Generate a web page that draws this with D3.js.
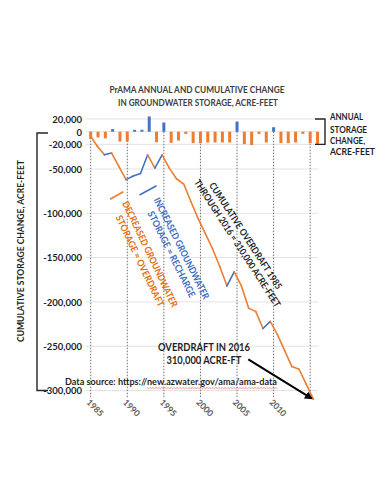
<!doctype html>
<html>
<head>
<meta charset="utf-8"/>
<style>
    body { margin: 0; background: #fff; }
    svg { display: block; }
    text { font-family: Lato, "Open Sans", sans-serif; font-weight: 700; }
</style>
<script src="https://d3js.org/d3.v7.min.js"></script>
</head>
<body>
<svg width="386" height="500"></svg>
<script>

var years = [1985, 1986, 1987, 1988, 1989, 1990, 1991, 1992, 1993, 1994, 1995, 1996, 1997, 1998, 1999, 2000,
             2001, 2002, 2003, 2004, 2005, 2006, 2007, 2008, 2009, 2010, 2011, 2012, 2013, 2014, 2015, 2016];

// annual storage change, acre-feet (bars)
var annual = [-11500, -9000, -10500, 4000, -15500, -15500, 3000, 3000, 24000, -16500, 14500, -17500, -14000, -3500, -18000, -18000,
              -17000, -17000, -17000, -17000, 16000, -19500, -21000, -3500, -17000, 7000, -18000, -18000, -17000, -3500, -18000, -19500];

// cumulative storage change, acre-feet (line)
var cumulative = [-12000, -24000, -34000, -32000, -47000, -62000, -58000, -55000, -34000, -49000, -34000, -49000, -61000, -67000, -87000, -106000,
                  -123000, -140000, -160000, -182000, -166000, -182000, -207000, -211000, -230000, -222000, -237000, -255000, -273000, -276000, -293000, -310000];

var yearLabels = [1985, 1990, 1995, 2000, 2005, 2010];
var gridYears = [1985, 1990, 1995, 2000, 2005, 2010, 2015];
var annualTicks = [20000, 0, -20000];
var cumTicks = [-50000, -100000, -150000, -200000, -250000, -300000];

var svg = d3.select("svg");
var orange = "#ED7D31", blue = "#4472C4", ink = "#1f1f1f";
var fmt = function(d) { return d3.format(",")(d).replace("\u2212", "-"); };

var xBar = d3.scaleLinear().domain([1985, 2016]).range([90.7, 317.5]);
var xLine = d3.scaleLinear().domain([1985, 2016]).range([90, 313.5]);
var yTop = d3.scaleLinear().domain([-20000, 20000]).range([144.4, 119]);
var yCum = d3.scaleLinear().domain([-300000, -50000]).range([390.5, 169]);

function label(x, y, str, size, opts) {
    opts = opts || {};
    var t = svg.append("text")
        .attr("transform", "translate(" + x + "," + y + ")" + (opts.rotate ? " rotate(" + opts.rotate + ")" : ""))
        .attr("font-size", size)
        .attr("fill", opts.fill || ink)
        .attr("text-anchor", opts.anchor || "start")
        .text(str);
    if (opts.len) t.attr("textLength", opts.len).attr("lengthAdjust", "spacingAndGlyphs");
    return t;
}

// title
label(197, 92.5, "PrAMA ANNUAL AND CUMULATIVE CHANGE", 9.5, {anchor: "middle", fill: "#404040", len: 175});
label(198, 105.5, "IN GROUNDWATER STORAGE, ACRE-FEET", 9.5, {anchor: "middle", fill: "#404040", len: 160});

// horizontal gridlines
svg.append("g").selectAll("line")
    .data(annualTicks)
    .join("line")
    .attr("x1", 86).attr("x2", 318)
    .attr("y1", function(d) { return yTop(d); })
    .attr("y2", function(d) { return yTop(d); })
    .attr("stroke", "#e3e3e3").attr("stroke-width", 1);

svg.append("g").selectAll("line")
    .data(cumTicks)
    .join("line")
    .attr("x1", 86).attr("x2", 318)
    .attr("y1", function(d) { return yCum(d); })
    .attr("y2", function(d) { return yCum(d); })
    .attr("stroke", "#e3e3e3").attr("stroke-width", 1);

// dotted year lines
svg.append("g").selectAll("line")
    .data(gridYears)
    .join("line")
    .attr("x1", function(d) { return xBar(d); })
    .attr("x2", function(d) { return xBar(d); })
    .attr("y1", yTop(0)).attr("y2", 398)
    .attr("stroke", "#6f6f6f").attr("stroke-width", 1)
    .attr("stroke-dasharray", "1.5,1.5");

// axes
var axTop = svg.append("g")
    .attr("transform", "translate(82,0)")
    .call(d3.axisLeft(yTop).tickValues(annualTicks).tickSize(0).tickPadding(0).tickFormat(fmt));
var axCum = svg.append("g")
    .attr("transform", "translate(82,0)")
    .call(d3.axisLeft(yCum).tickValues(cumTicks).tickSize(0).tickPadding(0).tickFormat(fmt));
[axTop, axCum].forEach(function(ax) {
    ax.select(".domain").remove();
    ax.selectAll("text").attr("font-size", 9.5).attr("fill", ink).attr("dy", "0.35em");
});

// year labels
svg.append("g").selectAll("text")
    .data(yearLabels)
    .join("text")
    .attr("transform", function(d) { return "translate(" + (xBar(d) - 4.7) + ",403) rotate(45)"; })
    .attr("font-size", 8.5)
    .attr("fill", "#595959")
    .text(function(d) { return d; });

// annual bars
svg.append("g").selectAll("rect")
    .data(years)
    .join("rect")
    .attr("x", function(d) { return xBar(d) - 1.5; })
    .attr("width", 3)
    .attr("y", function(d, i) { return Math.min(yTop(annual[i]), yTop(0)); })
    .attr("height", function(d, i) { return Math.abs(yTop(annual[i]) - yTop(0)); })
    .attr("fill", function(d, i) { return annual[i] >= 0 ? blue : orange; });

// cumulative line, coloured by direction of each step
var line = d3.line()
    .x(function(d) { return xLine(d[0]); })
    .y(function(d) { return yCum(d[1]); });
var segs = d3.range(1, years.length).map(function(i) {
    return [[years[i - 1], cumulative[i - 1]], [years[i], cumulative[i]]];
});
svg.append("g").selectAll("path")
    .data(segs)
    .join("path")
    .attr("d", line)
    .attr("fill", "none")
    .attr("stroke-width", 1.6)
    .attr("stroke-linecap", "round")
    .attr("stroke", function(d) { return d[1][1] > d[0][1] ? blue : orange; });

// brackets
svg.append("path")
    .attr("d", "M48,133H37V" + yCum(-300000) + "H48")
    .attr("fill", "none").attr("stroke", "#262626").attr("stroke-width", 1.4);
svg.append("path")
    .attr("d", "M315," + yTop(20000) + "H325V" + yTop(-20000) + "H315")
    .attr("fill", "none").attr("stroke", "#262626").attr("stroke-width", 1.4);

// axis titles
label(24, 251, "CUMULATIVE STORAGE CHANGE, ACRE-FEET", 9.5, {anchor: "middle", rotate: -90, len: 182});
label(330, 119.5, "ANNUAL", 9.5, {len: 33});
label(330, 132.5, "STORAGE", 9.5, {len: 37});
label(330, 143.5, "CHANGE,", 9.5, {len: 35});
label(330, 154.5, "ACRE-FEET", 9.5, {len: 45});

// legend strokes
svg.append("line").attr("x1", 110).attr("y1", 199.3).attr("x2", 123.3).attr("y2", 191.7)
    .attr("stroke", orange).attr("stroke-width", 1.6);
svg.append("line").attr("x1", 139.5).attr("y1", 195).attr("x2", 156.5).attr("y2", 185.8)
    .attr("stroke", blue).attr("stroke-width", 1.6);

// rotated annotations
label(147, 255.5, "DECREASED GROUNDWATER", 9.5, {anchor: "middle", rotate: 64.5, fill: "#E46C0A", len: 116});
label(137, 262.5, "STORAGE  =  OVERDRAFT", 9.5, {anchor: "middle", rotate: 64.5, fill: "#E46C0A", len: 100});
label(178.5, 249.8, "INCREASED GROUNDWATER", 9.5, {anchor: "middle", rotate: 63.4, fill: "#3d6bc0", len: 112});
label(168.5, 255.7, "STORAGE  =  RECHARGE", 9.5, {anchor: "middle", rotate: 63.4, fill: "#3d6bc0", len: 95});
label(242.9, 237.6, "CUMULATIVE OVERDRAFT 1985", 9.5, {anchor: "middle", rotate: 57, len: 125});
label(234.6, 245.1, "THROUGH 2016 = 310,000 ACRE-FEET", 9.5, {anchor: "middle", rotate: 57, len: 150});

// 2016 callout
label(204, 350.5, "OVERDRAFT IN 2016", 10.5, {anchor: "middle", len: 92});
label(204, 364, "310,000 ACRE-FT", 10.5, {anchor: "middle", len: 75});

svg.append("defs").append("marker")
    .attr("id", "arrow")
    .attr("viewBox", "0 0 10 10")
    .attr("refX", 8).attr("refY", 5)
    .attr("markerWidth", 4).attr("markerHeight", 4)
    .attr("orient", "auto")
    .append("path").attr("d", "M0,0L10,5L0,10z").attr("fill", "#000");
svg.append("line")
    .attr("x1", 248.3).attr("y1", 359.3)
    .attr("x2", xLine(2016) - 2).attr("y2", yCum(-310000) - 1)
    .attr("stroke", "#000").attr("stroke-width", 2)
    .attr("marker-end", "url(#arrow)");

// data source with spell-check squiggle
var src = label(65, 385, "Data source: https://new.azwater.gov/ama/ama-data", 9, {len: 212});
var node = src.node();
var startX = 65 + node.getSubStringLength(0, 21);
var zig = "M" + startX + ",387.5";
for (var zx = startX, k = 0; zx < 277; zx += 1.5, k++) {
    zig += "L" + (zx + 1.5) + "," + (k % 2 ? 387.5 : 388.7);
}
svg.append("path").attr("d", zig).attr("fill", "none").attr("stroke", "#e05050").attr("stroke-width", 0.6);

</script>
</body>
</html>
